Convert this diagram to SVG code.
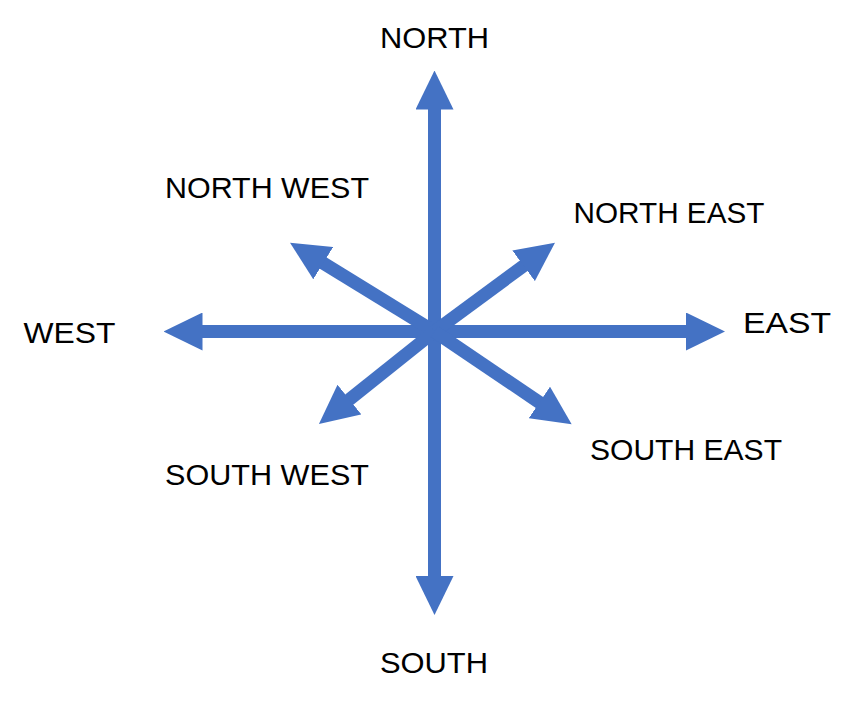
<svg xmlns="http://www.w3.org/2000/svg" width="843" height="708" viewBox="0 0 843 708">
<style>
.c line{stroke:#4472C4;stroke-width:13;marker-end:url(#ah)}
text{font-family:"Liberation Sans",Arial,sans-serif;font-size:29px;fill:#000}
</style>
<defs>
<marker id="ah" markerUnits="userSpaceOnUse" markerWidth="39" markerHeight="38" viewBox="-1 -19 39 38" refX="0" refY="0" orient="auto">
<path d="M-1,-19 L38,0 L-1,19 z" fill="#4472C4"/>
</marker>
</defs>
<rect width="843" height="708" fill="#fff"/>
<g class="c" id="connectors">
<line x1="434.5" y1="331.5" x2="434.5" y2="108.5"/>
<line x1="434.5" y1="331.5" x2="434.5" y2="577"/>
<line x1="434.5" y1="331.5" x2="201.5" y2="331.5"/>
<line x1="434.5" y1="331.5" x2="687" y2="331.5"/>
<line x1="434.5" y1="331.5" x2="322.4" y2="262.6"/>
<line x1="434.5" y1="331.5" x2="524.4" y2="265.2"/>
<line x1="434.5" y1="331.5" x2="348.6" y2="400.2"/>
<line x1="434.5" y1="331.5" x2="540.2" y2="403"/>
</g>
<g id="north"><text x="380" y="48.3" textLength="109" lengthAdjust="spacingAndGlyphs">NORTH</text></g>
<g id="north-west"><text x="165" y="198.3" textLength="204" lengthAdjust="spacingAndGlyphs">NORTH WEST</text></g>
<g id="north-east"><text x="573.5" y="223.3" textLength="191" lengthAdjust="spacingAndGlyphs">NORTH EAST</text></g>
<g id="west"><text x="23.5" y="343.3" textLength="92" lengthAdjust="spacingAndGlyphs">WEST</text></g>
<g id="east"><text x="743" y="333.3" textLength="88" lengthAdjust="spacingAndGlyphs">EAST</text></g>
<g id="south-east"><text x="590" y="460" textLength="192" lengthAdjust="spacingAndGlyphs">SOUTH EAST</text></g>
<g id="south-west"><text x="165" y="485" textLength="204" lengthAdjust="spacingAndGlyphs">SOUTH WEST</text></g>
<g id="south"><text x="380" y="673.3" textLength="108" lengthAdjust="spacingAndGlyphs">SOUTH</text></g>
</svg>
